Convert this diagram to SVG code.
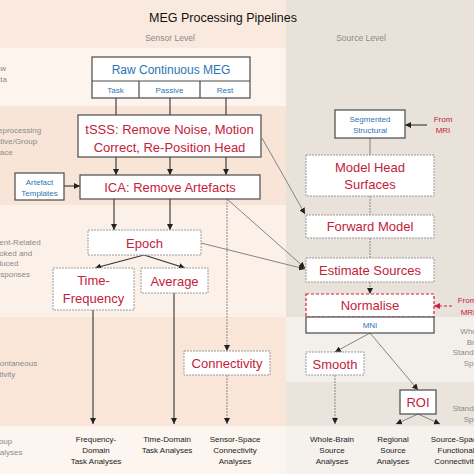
<svg xmlns="http://www.w3.org/2000/svg" width="474" height="474" viewBox="0 0 474 474">
<defs>
<style>
text{font-family:"Liberation Sans",Arial,sans-serif}
.red{fill:#c4213a;font-size:13px;text-anchor:middle}
.blue{fill:#2e75b6;text-anchor:middle}
.side{fill:#8a8a8a;font-size:8px}
.bot{fill:#1a1a1a;font-size:8px;text-anchor:middle}
.solid{fill:#fff;stroke:#4a4a4a;stroke-width:1.2}
.dash{fill:#fff;stroke:#9a9a9a;stroke-width:1;stroke-dasharray:2 1}
.rdash{fill:#fff;stroke:#d0213a;stroke-width:1.2;stroke-dasharray:3 2}
.c{stroke:#333;stroke-width:1.1;fill:none}
.cg{stroke:#777;stroke-width:0.9;fill:none}
.cd{stroke:#888;stroke-width:1;fill:none;stroke-dasharray:2 1}
</style>
<marker id="ah" viewBox="0 0 10 10" refX="10" refY="5" markerWidth="6" markerHeight="6" markerUnits="userSpaceOnUse" orient="auto"><path d="M0,0L10,5L0,10z" fill="#222"/></marker>
<marker id="ahr" viewBox="0 0 10 10" refX="10" refY="5" markerWidth="6" markerHeight="6" markerUnits="userSpaceOnUse" orient="auto"><path d="M0,0L10,5L0,10z" fill="#d0213a"/></marker>
</defs>
<g id="background">
<rect x="0" y="0" width="474" height="474" fill="#fbeee5"/>
<rect x="0" y="0" width="286" height="48" fill="#fae9de"/>
<rect x="0" y="48" width="286" height="58" fill="#fdf4ee"/>
<rect x="0" y="106" width="286" height="99" fill="#f9e5d7"/>
<rect x="0" y="205" width="286" height="112" fill="#fcf1e9"/>
<rect x="0" y="317" width="286" height="109" fill="#f9e6d9"/>
<rect x="0" y="426" width="286" height="48" fill="#fdf5ef"/>
<rect x="286" y="0" width="188" height="317" fill="#e9e2da"/>
<rect x="286" y="317" width="188" height="65" fill="#f3f0ec"/>
<rect x="286" y="382" width="188" height="44" fill="#ebe4dc"/>
<rect x="286" y="426" width="188" height="48" fill="#f5f2ee"/>
</g>
<g id="labels">
<text x="223" y="22" font-size="12.5" fill="#111" text-anchor="middle">MEG Processing Pipelines</text>
<text x="170" y="41" font-size="8.5" fill="#8a8a8a" text-anchor="middle">Sensor Level</text>
<text x="361" y="41" font-size="8.5" fill="#8a8a8a" text-anchor="middle">Source Level</text>
<text class="side" x="-10" y="71">Raw</text>
<text class="side" x="-10" y="82">Data</text>
<text class="side" x="-10" y="133">Preprocessing</text>
<text class="side" x="-10" y="144">Native/Group</text>
<text class="side" x="-10" y="155">Space</text>
<text class="side" x="-10" y="245">Event-Related</text>
<text class="side" x="-10" y="256">Evoked and</text>
<text class="side" x="-10" y="266">Induced</text>
<text class="side" x="-10" y="277">Responses</text>
<text class="side" x="-10" y="366">Spontaneous</text>
<text class="side" x="-10" y="377">Activity</text>
<text class="side" x="-10" y="444">Group</text>
<text class="side" x="-10" y="455">Analyses</text>
<text class="side" x="473" y="334" text-anchor="middle">Whole-</text>
<text class="side" x="476" y="345" text-anchor="middle">Brain</text>
<text class="side" x="469" y="355" text-anchor="middle">Standard</text>
<text class="side" x="475" y="366" text-anchor="middle">Space</text>
<text class="side" x="469" y="411" text-anchor="middle">Standard</text>
<text class="side" x="475" y="422" text-anchor="middle">Space</text>
<text x="443" y="122" font-size="8" fill="#c4213a" text-anchor="middle">From</text>
<text x="443" y="133" font-size="8" fill="#c4213a" text-anchor="middle">MRI</text>
<text x="467" y="303" font-size="8" fill="#c4213a" text-anchor="middle">From</text>
<text x="468" y="315" font-size="8" fill="#c4213a" text-anchor="middle">MRI</text>
<text class="bot" x="96" y="442">Frequency-</text>
<text class="bot" x="96" y="453">Domain</text>
<text class="bot" x="96" y="464">Task Analyses</text>
<text class="bot" x="167" y="442">Time-Domain</text>
<text class="bot" x="167" y="453">Task Analyses</text>
<text class="bot" x="235" y="442">Sensor-Space</text>
<text class="bot" x="235" y="453">Connectivity</text>
<text class="bot" x="235" y="464">Analyses</text>
<text class="bot" x="332" y="442">Whole-Brain</text>
<text class="bot" x="332" y="453">Source</text>
<text class="bot" x="332" y="464">Analyses</text>
<text class="bot" x="393" y="442">Regional</text>
<text class="bot" x="393" y="453">Source</text>
<text class="bot" x="393" y="464">Analyses</text>
<text class="bot" x="456" y="442">Source-Space</text>
<text class="bot" x="456" y="453">Functional</text>
<text class="bot" x="456" y="464">Connectivity</text>
</g>
<g id="connectors">
<path class="c" d="M116,98V115M170,98V115M226,98V115"/>
<line class="c" x1="116" y1="157" x2="116" y2="175" marker-end="url(#ah)"/>
<line class="c" x1="170" y1="157" x2="170" y2="175" marker-end="url(#ah)"/>
<line class="c" x1="226" y1="157" x2="226" y2="175" marker-end="url(#ah)"/>
<line class="c" x1="64" y1="186" x2="80" y2="186" marker-end="url(#ah)"/>
<line class="c" x1="114" y1="199" x2="114" y2="230" marker-end="url(#ah)"/>
<line class="c" x1="170" y1="199" x2="170" y2="230" marker-end="url(#ah)"/>
<line class="c" x1="144" y1="255" x2="95" y2="268" marker-end="url(#ah)"/>
<line class="c" x1="144" y1="255" x2="185" y2="268" marker-end="url(#ah)"/>
<line class="c" x1="93" y1="310" x2="93" y2="424" marker-end="url(#ah)"/>
<line class="c" x1="174" y1="293" x2="174" y2="424" marker-end="url(#ah)"/>
<line class="cd" x1="227" y1="199" x2="227" y2="351" marker-end="url(#ah)"/>
<line class="cd" x1="227" y1="375" x2="227" y2="424" marker-end="url(#ah)"/>
<line class="cg" x1="262" y1="138" x2="305" y2="214" marker-end="url(#ah)"/>
<line class="cg" x1="227" y1="199" x2="305" y2="268" marker-end="url(#ah)"/>
<line class="cg" x1="201" y1="243" x2="305" y2="269" marker-end="url(#ah)"/>
<line class="c" x1="427" y1="125" x2="405" y2="125" marker-end="url(#ah)"/>
<line class="cg" x1="370" y1="138" x2="370" y2="155"/>
<line class="cd" x1="370" y1="196" x2="370" y2="215"/>
<line class="cd" x1="370" y1="238" x2="370" y2="258"/>
<line class="cd" x1="370" y1="282" x2="370" y2="294" marker-end="url(#ah)"/>
<line x1="452" y1="306" x2="434" y2="306" stroke="#d0213a" stroke-width="1.2" stroke-dasharray="3 2" marker-end="url(#ahr)"/>
<line class="cg" x1="370" y1="333" x2="335" y2="352" marker-end="url(#ah)"/>
<line class="cg" x1="370" y1="333" x2="418" y2="390" marker-end="url(#ah)"/>
<line class="cd" x1="335" y1="375" x2="335" y2="424" marker-end="url(#ah)"/>
<line class="cg" x1="418" y1="414" x2="396" y2="424" marker-end="url(#ah)"/>
<line class="cg" x1="418" y1="414" x2="440" y2="424" marker-end="url(#ah)"/>
</g>
<g id="raw">
<rect class="solid" x="92" y="57" width="158" height="41"/>
<path d="M92,81H250M139,81V98M200,81V98" stroke="#4a4a4a" stroke-width="1.2"/>
<text class="blue" x="171" y="74" font-size="12">Raw Continuous MEG</text>
<text class="blue" x="115.5" y="93" font-size="8">Task</text>
<text class="blue" x="169.5" y="93" font-size="8">Passive</text>
<text class="blue" x="225" y="93" font-size="8">Rest</text>
</g>
<g id="tsss">
<rect class="solid" x="78" y="115" width="183" height="42"/>
<text class="red" x="169.5" y="134">tSSS: Remove Noise, Motion</text>
<text class="red" x="169.5" y="152">Correct, Re-Position Head</text>
</g>
<g id="ica">
<rect class="solid" x="80" y="175" width="180" height="24"/>
<text class="red" x="170" y="192">ICA: Remove Artefacts</text>
</g>
<g id="artefact">
<rect class="solid" x="15" y="173" width="49" height="27"/>
<text class="blue" x="39.5" y="184.5" font-size="8">Artefact</text>
<text class="blue" x="39.5" y="195.5" font-size="8">Templates</text>
</g>
<g id="epoch">
<rect class="dash" x="88" y="230" width="113" height="25"/>
<text class="red" x="144.5" y="248">Epoch</text>
</g>
<g id="timefreq">
<rect class="dash" x="53" y="268" width="81" height="42"/>
<text class="red" x="93.5" y="285">Time-</text>
<text class="red" x="93.5" y="303">Frequency</text>
</g>
<g id="average">
<rect class="dash" x="141" y="268" width="67" height="25"/>
<text class="red" x="174.5" y="286">Average</text>
</g>
<g id="connectivity">
<rect class="dash" x="184" y="351" width="86" height="24"/>
<text class="red" x="227" y="368">Connectivity</text>
</g>
<g id="segmented">
<rect class="solid" x="335" y="110" width="70" height="28"/>
<text class="blue" x="370" y="122" font-size="8">Segmented</text>
<text class="blue" x="370" y="133" font-size="8">Structural</text>
</g>
<g id="modelhead">
<rect class="dash" x="306" y="155" width="128" height="41"/>
<text class="red" x="370" y="172">Model Head</text>
<text class="red" x="370" y="189">Surfaces</text>
</g>
<g id="forward">
<rect class="dash" x="306" y="215" width="128" height="23"/>
<text class="red" x="370" y="231">Forward Model</text>
</g>
<g id="estimate">
<rect class="dash" x="306" y="258" width="128" height="24"/>
<text class="red" x="370" y="275">Estimate Sources</text>
</g>
<g id="normalise">
<rect class="rdash" x="306" y="294" width="128" height="23"/>
<rect class="solid" x="306" y="317" width="128" height="16"/>
<text class="red" x="370" y="310">Normalise</text>
<text class="blue" x="370" y="328" font-size="8">MNI</text>
</g>
<g id="smooth">
<rect class="dash" x="306" y="352" width="58" height="23"/>
<text class="red" x="335" y="369">Smooth</text>
</g>
<g id="roi">
<rect class="solid" x="400" y="390" width="36" height="24"/>
<text class="red" x="418" y="407">ROI</text>
</g>
</svg>
